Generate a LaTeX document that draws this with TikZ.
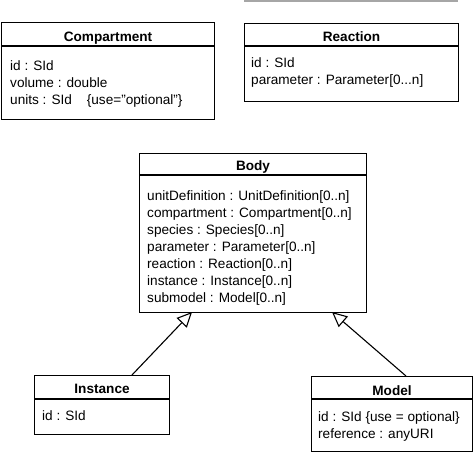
\documentclass[tikz,border=0pt]{standalone}
\usepackage{fontspec}
\setmainfont{Liberation Sans}
\usetikzlibrary{arrows.meta}
\begin{document}
\begin{tikzpicture}[x=1pt,y=-1pt,
  box/.style={draw=black, line width=1.1pt, inner sep=0pt, anchor=north west},
  divider/.style={draw=black, line width=1.1pt},
  ttl/.style={font=\fontsize{13.6}{17}\selectfont\bfseries, inner sep=0pt, anchor=base},
  attr/.style={font=\fontsize{13.6}{17}\selectfont, inner sep=0pt, anchor=base west},
  inherit/.style={draw=black, line width=1.1pt, -{Triangle[open, length=15pt, width=14pt, fill=white]}}]
\useasboundingbox (0,0) rectangle (474,474);
\fill[black!35] (244,0) rectangle (458,2.2) coordinate (barend);
% Compartment
\node[box, minimum width=213pt, minimum height=97pt] (comp) at (1,22) {};
\draw[divider] (comp.west |- 0,46) -- (comp.east |- 0,46);
\node[ttl] (compT) at (comp.center |- 0,41) {Compartment};
\node[attr] (compA1) at (10,70) {id : SId};
\node[attr] (compA2) at (10,87) {volume : double};
\node[attr] (compA3) at (10,104.5) {units : SId\hspace{1.1em}\{use="optional"\}};
% Reaction
\node[box, minimum width=214pt, minimum height=78pt] (reac) at (244,23) {};
\draw[divider] (reac.west |- 0,46) -- (reac.east |- 0,46);
\node[ttl] (reacT) at (reac.center |- 0,41.5) {Reaction};
\node[attr] (reacA1) at (251,67) {id : SId};
\node[attr] (reacA2) at (251,84) {parameter : Parameter[0...n]};
% Body
\node[box, minimum width=227pt, minimum height=159pt] (body) at (139,153) {};
\draw[divider] (body.west |- 0,175) -- (body.east |- 0,175);
\node[ttl] (bodyT) at (body.center |- 0,170) {Body};
\node[attr] (bodyA1) at (147,200) {unitDefinition : UnitDefinition[0..n]};
\node[attr] (bodyA2) at (147,217) {compartment : Compartment[0..n]};
\node[attr] (bodyA3) at (147,234) {species : Species[0..n]};
\node[attr] (bodyA4) at (147,251) {parameter : Parameter[0..n]};
\node[attr] (bodyA5) at (147,268) {reaction : Reaction[0..n]};
\node[attr] (bodyA6) at (147,285) {instance : Instance[0..n]};
\node[attr] (bodyA7) at (147,302) {submodel : Model[0..n]};
% Instance
\node[box, minimum width=135pt, minimum height=59pt] (inst) at (34,375) {};
\draw[divider] (inst.west |- 0,399) -- (inst.east |- 0,399);
\node[ttl] (instT) at (inst.center |- 0,393) {Instance};
\node[attr] (instA1) at (42,420) {id : SId};
% Model
\node[box, minimum width=161pt, minimum height=75pt] (model) at (311,376) {};
\draw[divider] (model.west |- 0,399) -- (model.east |- 0,399);
\node[ttl] (modelT) at (model.center |- 0,395) {Model};
\node[attr] (modelA1) at (318,421) {id : SId \{use = optional\}};
\node[attr] (modelA2) at (318,438) {reference : anyURI};
% inheritance
\coordinate (instTop) at (132,375);
\coordinate (bodyL) at (192,312);
\coordinate (modelTop) at (406,376);
\coordinate (bodyR) at (332,312);
\draw[inherit] (instTop) -- (bodyL);
\draw[inherit] (modelTop) -- (bodyR);
\end{tikzpicture}
\end{document}
